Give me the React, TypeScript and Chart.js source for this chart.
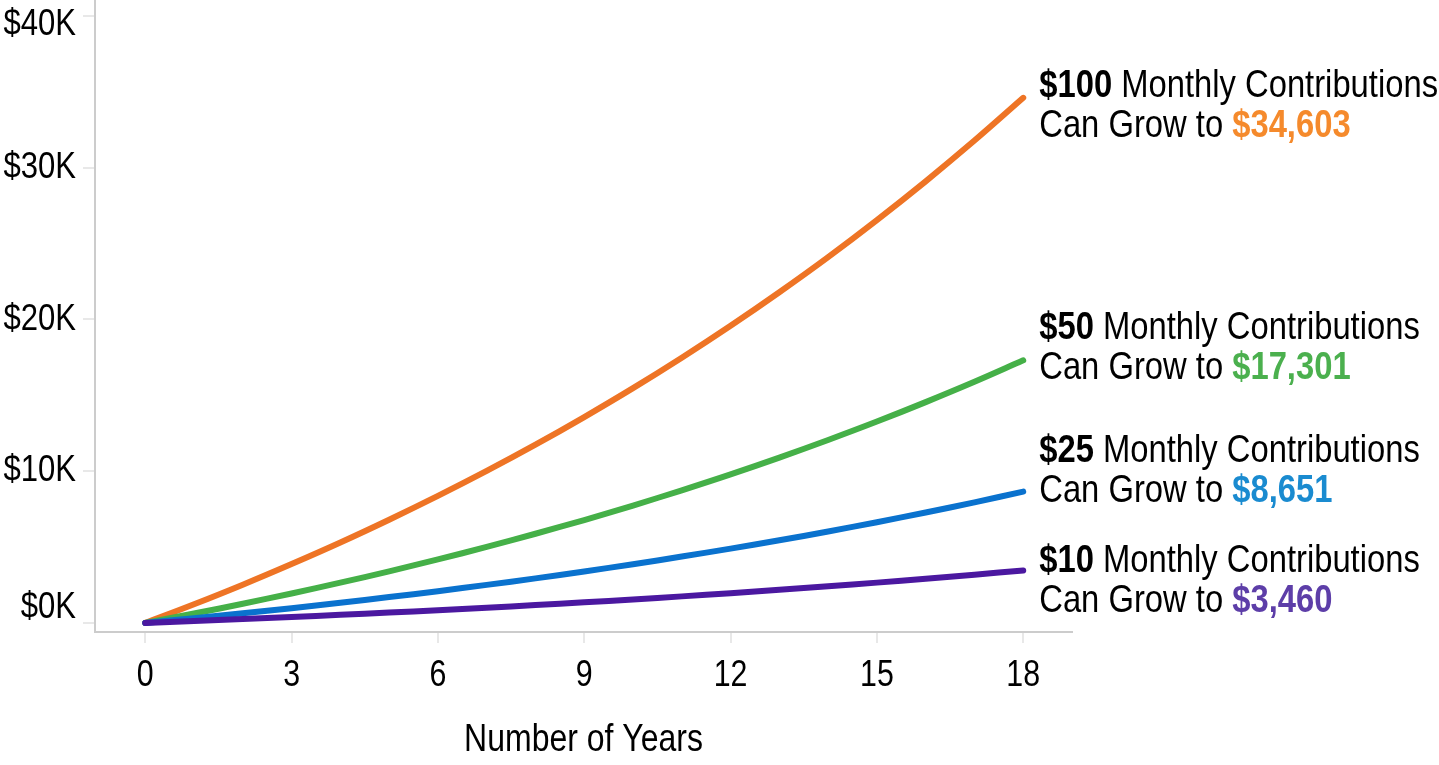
import React, { useEffect, useRef } from "react";
import { Chart, registerables } from "chart.js";

Chart.register(...registerables);

const years = [0, 1, 2, 3, 4, 5, 6, 7, 8, 9, 10, 11, 12, 13, 14, 15, 16, 17, 18];
const xTicks = [0, 3, 6, 9, 12, 15, 18];
const yTicks = [0, 10000, 20000, 30000, 40000];
const yTickLabels = ["$0K", "$10K", "$20K", "$30K", "$40K"];
const xTitle = "Number of Years";

const contrib100 = [0, 1230, 2520, 3880, 5300, 6800, 8370, 10015, 11745, 13565, 15470, 17475, 19580, 21790, 24105, 26545, 29100, 31785, 34603];
const contrib50 = [0, 615, 1260, 1940, 2650, 3400, 4185, 5010, 5875, 6780, 7735, 8740, 9790, 10895, 12055, 13270, 14550, 15890, 17301];
const contrib25 = [0, 308, 630, 970, 1325, 1700, 2090, 2505, 2935, 3390, 3870, 4370, 4895, 5445, 6025, 6635, 7275, 7945, 8651];
const contrib10 = [0, 123, 252, 388, 530, 680, 837, 1000, 1175, 1356, 1547, 1748, 1958, 2179, 2411, 2654, 2910, 3179, 3460];

const seriesAmounts = ["$100", "$50", "$25", "$10"];
const seriesValues = [contrib100, contrib50, contrib25, contrib10];
const lineColors = ["#EE7425", "#45B048", "#0A72CE", "#4B18A0"];
const textColors = ["#F58A2C", "#4BB04E", "#1A8BD0", "#5D3EA8"];
const labelOffsets = [-12, -32, -40, -9];

const FONT = "'Liberation Sans', Arial, sans-serif";

function narrowText(ctx: any, text: string, x: number, y: number, font: string, color: string, align: string, squeeze = 0.82) {
  ctx.save();
  ctx.font = font;
  ctx.fillStyle = color;
  ctx.textBaseline = "middle";
  ctx.textAlign = align;
  ctx.translate(x, y);
  ctx.scale(squeeze, 1);
  ctx.fillText(text, 0, 0);
  const w = ctx.measureText(text).width * squeeze;
  ctx.restore();
  return w;
}

const textPlugin = {
  id: "textPlugin",
  afterDraw(chart: any) {
    const ctx = chart.ctx;
    const area = chart.chartArea;
    const yScale = chart.scales.y;
    const xScale = chart.scales.x;
    // y tick labels (kept within the axis extent)
    yTicks.forEach((v, i) => {
      let py = yScale.getPixelForValue(v);
      py = Math.min(Math.max(py, area.top + 25), area.bottom - 24);
      narrowText(ctx, yTickLabels[i], area.left - 19, py, `37px ${FONT}`, "#000", "right", 0.84);
    });
    // x tick labels
    xTicks.forEach((v) => {
      narrowText(ctx, String(v), xScale.getPixelForValue(v), area.bottom + 44, `37px ${FONT}`, "#000", "center");
    });
    // x title
    narrowText(ctx, xTitle, (area.left + area.right) / 2, area.bottom + 108, `39px ${FONT}`, "#000", "center");
    // end labels
    const sq = 0.84;
    seriesValues.forEach((vals, i) => {
      const meta = chart.getDatasetMeta(i);
      const pt = meta.data[meta.data.length - 1];
      const x = pt.x + 16;
      const y1 = pt.y + labelOffsets[i];
      const y2 = y1 + 40;
      const w1 = narrowText(ctx, seriesAmounts[i], x, y1, `bold 39px ${FONT}`, "#000", "left", sq);
      narrowText(ctx, " Monthly Contributions", x + w1, y1, `39px ${FONT}`, "#000", "left", sq);
      const w2 = narrowText(ctx, "Can Grow to ", x, y2, `39px ${FONT}`, "#000", "left", sq);
      const finalVal = vals[vals.length - 1];
      narrowText(ctx, "$" + finalVal.toLocaleString("en-US"), x + w2, y2, `bold 39px ${FONT}`, textColors[i], "left", sq);
    });
  },
};

export default function App() {
  const ref = useRef<HTMLCanvasElement | null>(null);
  useEffect(() => {
    if (!ref.current) return;
    const chart = new Chart(ref.current, {
      type: "line",
      data: {
        datasets: seriesValues.map((vals, i) => ({
          label: seriesAmounts[i],
          data: years.map((x, j) => ({ x, y: vals[j] })),
          borderColor: lineColors[i],
          backgroundColor: lineColors[i],
          borderWidth: 6,
          borderCapStyle: "round",
          borderJoinStyle: "round",
          pointRadius: 0,
          tension: 0.4,
          fill: false,
          order: 3 - i,
        })),
      },
      options: {
        animation: false,
        responsive: true,
        maintainAspectRatio: false,
        layout: { padding: { left: 0, right: 367, top: 0, bottom: 0 } },
        plugins: {
          legend: { display: false },
          tooltip: { enabled: false },
        },
        scales: {
          x: {
            type: "linear",
            min: -1.03,
            max: 19,
            afterBuildTicks: (axis: any) => {
              axis.ticks = xTicks.map((v) => ({ value: v }));
            },
            afterFit: (axis: any) => {
              axis.height = 133;
            },
            grid: {
              drawOnChartArea: false,
              drawTicks: true,
              tickLength: 11,
              color: "#e8e8e8",
              lineWidth: 2,
            },
            border: { display: true, color: "#cccccc", width: 2 },
            ticks: { display: false },
          },
          y: {
            type: "linear",
            min: -600,
            max: 41050,
            afterBuildTicks: (axis: any) => {
              axis.ticks = yTicks.map((v) => ({ value: v }));
            },
            afterFit: (axis: any) => {
              axis.width = 95;
            },
            grid: {
              drawOnChartArea: false,
              drawTicks: true,
              tickLength: 12,
              color: "#e8e8e8",
              lineWidth: 2,
            },
            border: { display: true, color: "#cccccc", width: 2 },
            ticks: { display: false },
          },
        },
      },
      plugins: [textPlugin],
    } as any);
    return () => chart.destroy();
  }, []);
  return (
    <div style={{ position: "fixed", left: 0, top: 0, width: "1439px", height: "765px", background: "#fff" }}>
      <canvas ref={ref} />
    </div>
  );
}
